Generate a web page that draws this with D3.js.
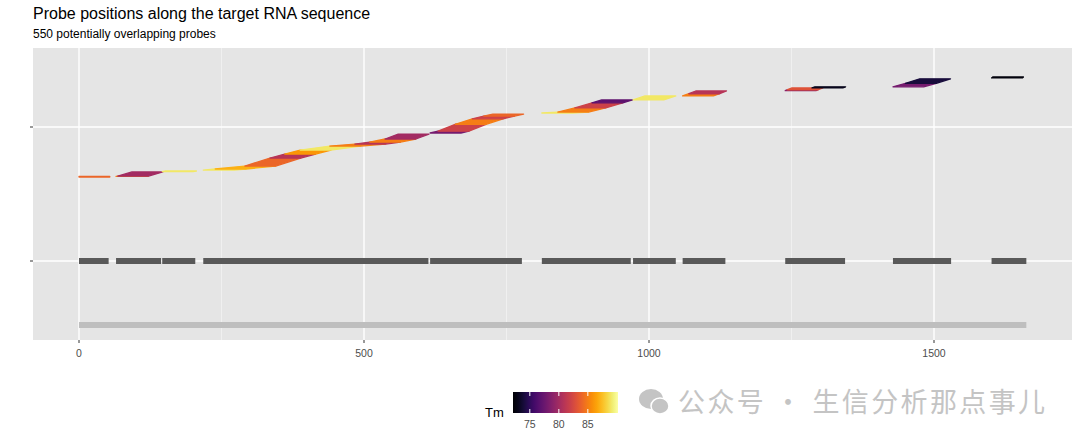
<!DOCTYPE html>
<html><head><meta charset="utf-8">
<script src="https://cdn.jsdelivr.net/npm/d3@7"></script>
<style>body{margin:0;background:#fff;font-family:"Liberation Sans",Arial,sans-serif}</style>
</head><body><svg id="c" width="1080" height="444"></svg>
<script>
// Probe bands: first start, last start (nt), first index, last index, Tm
const bandStartFrom = [0,65,68,146,218,239,291,335,361,388,440,484,510,537,616,630,660,690,710,812,840,870,900,972,1059,1070,1239,1243,1286,1428,1450,1601];
const bandStartTo   = [0,68,93,152,239,291,335,361,388,440,484,510,537,560,630,660,690,710,726,840,870,900,917,993,1070,1082,1243,1251,1291,1450,1475,1603];
const bandIdxFrom   = [0,3,5,30,38,44,60,104,126,148,170,181,192,209,242,252,290,320,335,352,357,380,408,424,446,458,475,480,490,496,515,545];
const bandIdxTo     = [3,5,28,33,44,60,104,126,148,170,181,192,209,236,252,290,320,335,346,357,380,408,424,446,458,473,480,490,496,515,540,550];
const bandTm        = [84,85,80,89,89,87,84,81,86,89,85,81,85,80,78,82,85,82,84,89,85,82,77,89,85,81,79,83,73,78,74,72.5];
const probeLength = 54;
// Regions covered by probes (nt)
const regionStart = [0,65,146,218,616,812,972,1059,1239,1428,1601];
const regionEnd   = [52,144,204,613,777,968,1047,1134,1344,1530,1662];
const seqLength = 1662;
const xTicks = [0,500,1000,1500];
const tmTicks = [75,80,85];

const svg = d3.select("#c");
const pl=33, pr=1072, pt=48, pb=340;
const x = d3.scaleLinear().domain([0,1000]).range([79,649]);
const y = d3.scaleLinear().domain([0,550]).range([177,77]);
const trackIdx = -462, seqIdx = -814;
const color = d3.scaleSequential(d3.interpolateInferno).domain([72.1,90.2]);

svg.append("rect").attr("x",pl).attr("y",pt).attr("width",pr-pl).attr("height",pb-pt).attr("fill","#e5e5e5");
[250,750,1250].forEach(v=>svg.append("line").attr("x1",x(v)).attr("x2",x(v)).attr("y1",pt).attr("y2",pb).attr("stroke","#f2f2f2").attr("stroke-width",0.8));
xTicks.forEach(v=>svg.append("line").attr("x1",x(v)).attr("x2",x(v)).attr("y1",pt).attr("y2",pb).attr("stroke","#fff").attr("stroke-width",1.4));
[275,trackIdx].forEach(v=>svg.append("line").attr("x1",pl).attr("x2",pr).attr("y1",y(v)).attr("y2",y(v)).attr("stroke","#fff").attr("stroke-width",1.4));

svg.append("line").attr("x1",x(0)).attr("x2",x(seqLength)).attr("y1",y(seqIdx)).attr("y2",y(seqIdx)).attr("stroke","#bebebe").attr("stroke-width",6);
regionStart.forEach((s,i)=>svg.append("line").attr("x1",x(s)).attr("x2",x(regionEnd[i])).attr("y1",y(trackIdx)).attr("y2",y(trackIdx)).attr("stroke","#595959").attr("stroke-width",6));
bandTm.forEach((tm,i)=>{
  const s0=bandStartFrom[i], s1=bandStartTo[i], i0=bandIdxFrom[i], i1=bandIdxTo[i];
  const pts=[[x(s0),y(i0)],[x(s1),y(i1)],[x(s1+probeLength),y(i1)],[x(s0+probeLength),y(i0)]];
  svg.append("polygon").attr("points",pts.map(p=>p.join(",")).join(" ")).attr("fill",color(tm)).attr("stroke",color(tm)).attr("stroke-width",1.3).attr("stroke-linejoin","round");
});

xTicks.forEach(v=>{
  svg.append("line").attr("x1",x(v)).attr("x2",x(v)).attr("y1",pb).attr("y2",pb+3).attr("stroke","#333");
  svg.append("text").attr("x",x(v)).attr("y",pb+17).attr("text-anchor","middle").attr("font-size",10.5).attr("fill","#4d4d4d").text(v);
});
[275,trackIdx].forEach(v=>svg.append("line").attr("x1",pl-3).attr("x2",pl).attr("y1",y(v)).attr("y2",y(v)).attr("stroke","#333"));

svg.append("text").attr("x",33).attr("y",19).attr("font-size",16).attr("fill","#000").text("Probe positions along the target RNA sequence");
svg.append("text").attr("x",33).attr("y",38).attr("font-size",12).attr("fill","#000").text("550 potentially overlapping probes");

const lx0=513, lx1=618, ly=392, lh=21;
const defs=svg.append("defs"); const g=defs.append("linearGradient").attr("id","gr");
d3.range(0,1.01,0.05).forEach(t=>g.append("stop").attr("offset",t).attr("stop-color",d3.interpolateInferno(t)));
svg.append("rect").attr("x",lx0).attr("y",ly).attr("width",lx1-lx0).attr("height",lh).attr("fill","url(#gr)");
const lsc=d3.scaleLinear().domain([72.1,90.2]).range([lx0,lx1]);
tmTicks.forEach(v=>{
  svg.append("line").attr("x1",lsc(v)).attr("x2",lsc(v)).attr("y1",ly).attr("y2",ly+4).attr("stroke","#fff");
  svg.append("line").attr("x1",lsc(v)).attr("x2",lsc(v)).attr("y1",ly+lh-4).attr("y2",ly+lh).attr("stroke","#fff");
  svg.append("text").attr("x",lsc(v)).attr("y",ly+lh+15).attr("text-anchor","middle").attr("font-size",10.5).attr("fill","#4d4d4d").text(v);
});
svg.append("text").attr("x",485).attr("y",417).attr("font-size",13).text("Tm");

const wm=svg.append("g").attr("fill","#c4c4c4");
wm.append("ellipse").attr("cx",651).attr("cy",399).attr("rx",12).attr("ry",10);
wm.append("ellipse").attr("cx",660).attr("cy",406).attr("rx",9).attr("ry",8).attr("stroke","#fff").attr("stroke-width",1.5);
svg.append("text").attr("x",678).attr("y",412).attr("font-size",27).attr("fill","#c4c4c4").attr("font-family","Noto Sans CJK SC").attr("textLength",367).text("公众号 · 生信分析那点事儿");
</script></body></html>
